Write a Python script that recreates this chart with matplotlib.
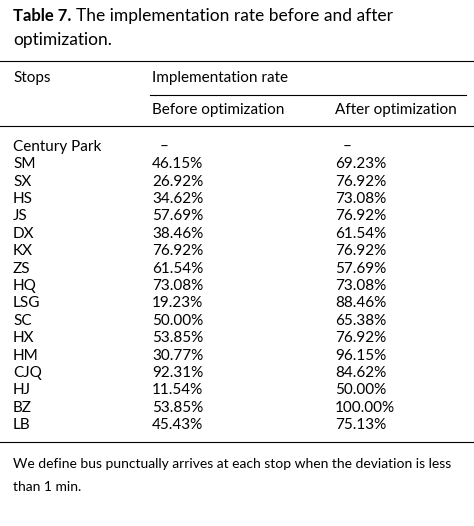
import matplotlib.pyplot as plt

stops = ["Century Park", "SM", "SX", "HS", "JS", "DX", "KX", "ZS", "HQ", "LSG",
         "SC", "HX", "HM", "CJQ", "HJ", "BZ", "LB"]
before = ["–", "46.15%", "26.92%", "34.62%", "57.69%", "38.46%", "76.92%", "61.54%",
          "73.08%", "19.23%", "50.00%", "53.85%", "30.77%", "92.31%", "11.54%",
          "53.85%", "45.43%"]
after = ["–", "69.23%", "76.92%", "73.08%", "76.92%", "61.54%", "76.92%", "57.69%",
         "73.08%", "88.46%", "65.38%", "76.92%", "96.15%", "84.62%", "50.00%",
         "100.00%", "75.13%"]

W, H = 474, 526
fig = plt.figure(figsize=(W / 100, H / 100), dpi=100)
fig.patch.set_facecolor("white")
plt.rcParams["font.family"] = ["Lato", "DejaVu Sans"]


def txt(x, y, s, fs=11, **kw):
    fig.text(x / W, 1 - y / H, s, fontsize=fs, va="center", ha="left", **kw)


def hline(x0, x1, y):
    fig.add_artist(plt.Line2D([x0 / W, x1 / W], [1 - y / H, 1 - y / H],
                              color="black", lw=0.8))


txt(13, 16, "Table 7.", fs=12, fontweight="bold")
txt(76, 16, "The implementation rate before and after", fs=12.5)
txt(13, 40, "optimization.", fs=12.5)
hline(0, W, 61)
txt(13, 78, "Stops")
txt(152, 78, "Implementation rate")
hline(150, 466, 95)
txt(152, 110, "Before optimization")
txt(335, 110, "After optimization")
hline(0, W, 126)

for i, (s, b, a) in enumerate(zip(stops, before, after)):
    y = 147 + i * 17.375
    txt(13, y, s)
    txt(152 if b != "–" else 160, y, b)
    txt(335 if a != "–" else 343, y, a)

hline(0, W, 442)
txt(13, 464, "We define bus punctually arrives at each stop when the deviation is less", fs=10)
txt(13, 487, "than 1 min.", fs=10)

fig.savefig("out.png", dpi=100)
